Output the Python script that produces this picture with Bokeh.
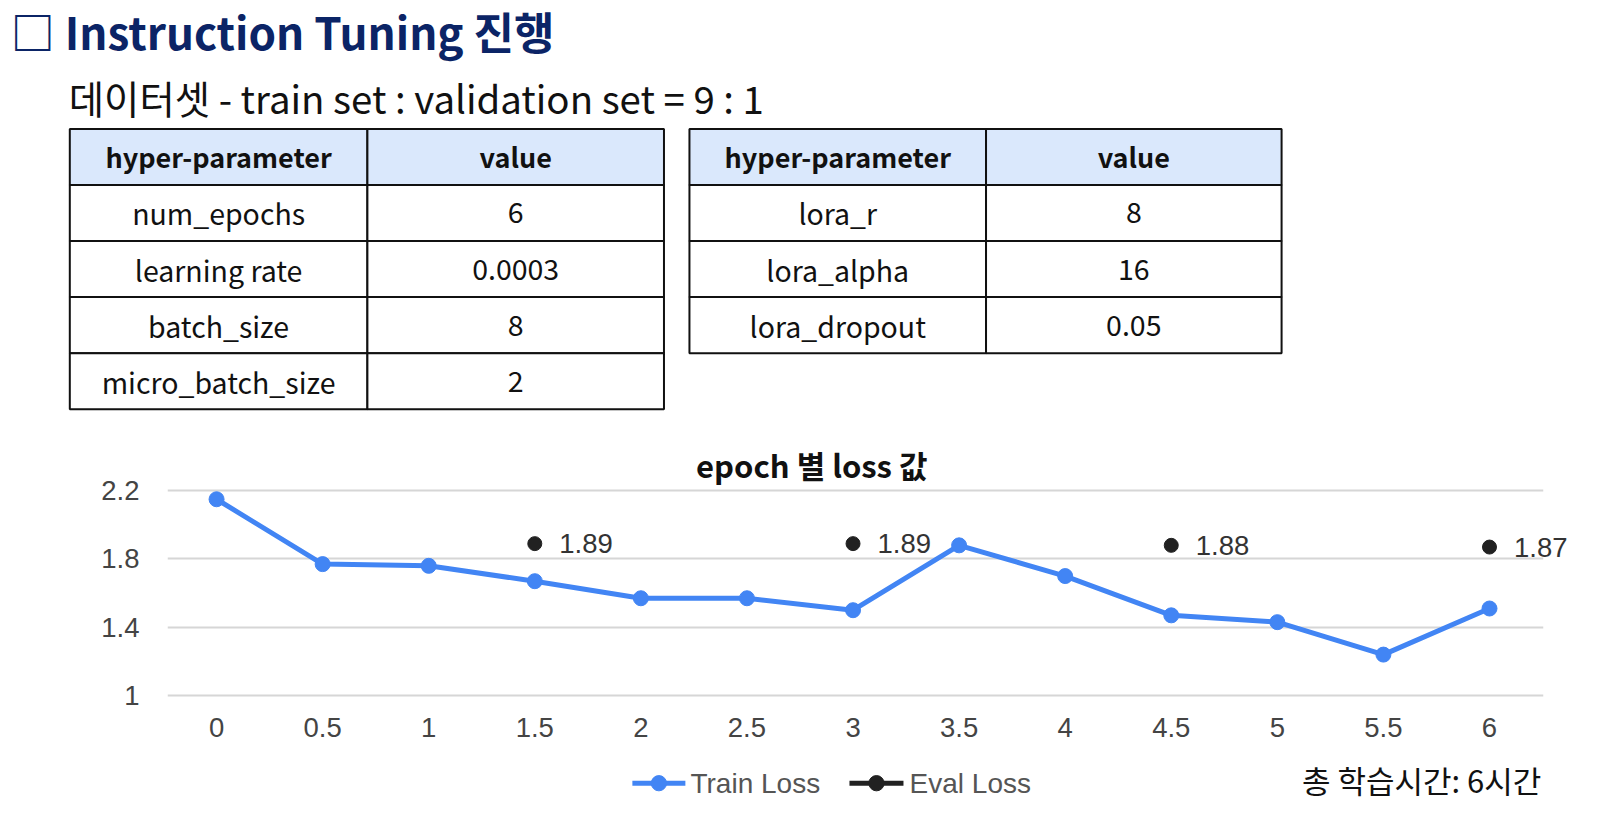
from bokeh.plotting import figure
from bokeh.models import (Range1d, ColumnDataSource, FixedTicker, CustomJSTickFormatter)
from bokeh.core.properties import value
from bokeh.embed import file_html
from bokeh.resources import INLINE

# ---------------- data ----------------
title_text = "□ Instruction Tuning 진행"
subtitle_text = "데이터셋 - train set : validation set = 9 : 1"
table_header = ["hyper-parameter", "value"]
train_params = ["num_epochs", "learning rate", "batch_size", "micro_batch_size"]
train_values = ["6", "0.0003", "8", "2"]
lora_params = ["lora_r", "lora_alpha", "lora_dropout"]
lora_values = ["8", "16", "0.05"]

chart_title = "epoch 별 loss 값"
epochs = [0, 0.5, 1, 1.5, 2, 2.5, 3, 3.5, 4, 4.5, 5, 5.5, 6]
train_loss = [2.15, 1.77, 1.76, 1.67, 1.57, 1.57, 1.50, 1.88, 1.70, 1.47, 1.43, 1.24, 1.51]
eval_epochs = [1.5, 3, 4.5, 6]
eval_loss = [1.89, 1.89, 1.88, 1.87]
x_ticks = [0, 0.5, 1, 1.5, 2, 2.5, 3, 3.5, 4, 4.5, 5, 5.5, 6]
x_tick_labels = ["0", "0.5", "1", "1.5", "2", "2.5", "3", "3.5", "4", "4.5", "5", "5.5", "6"]
y_ticks = [1, 1.4, 1.8, 2.2]
y_tick_labels = ["1", "1.4", "1.8", "2.2"]
series_names = ["Train Loss", "Eval Loss"]
total_time = "총 학습시간: 6시간"

# ---------------- styles / layout ----------------
KR = value("Noto Sans CJK KR")
CHART_NAME = "Liberation Sans"
CHART_FONT = value(CHART_NAME)
NAVY = "#0b2466"
BLUE = "#4285f4"
DARK = "#212121"
W, H = 1582, 802
S = 0.9812                      # layout units per canvas pixel
# chart frame in layout units
FL, FR, FT, FB = 164, 1514, 479, 684
MB_L, MB_R = round(FL / S), W - round(FR / S)
MB_T, MB_B = round(FT / S), H - round(FB / S)
fl, fr = MB_L * S, (W - MB_R) * S
ft, fb = MB_T * S, (H - MB_B) * S
# chart axes placement in layout units: x=0 at 212, x=6 at 1461; y=2.2 at 481, y=1 at 682
xs_per = (1461 - 212) / 6.0
ys_per = (682 - 481) / 1.2
x_start, x_end = (fl - 212) / xs_per, (fr - 212) / xs_per
y_end, y_start = 2.2 + (481 - ft) / ys_per, 1.0 - (fb - 682) / ys_per

PX = dict(x_range_name="px", y_range_name="px", level="overlay")

p = figure(width=W, height=H, x_range=Range1d(x_start, x_end), y_range=Range1d(y_start, y_end),
           output_backend="svg", toolbar_location=None,
           min_border_left=MB_L, min_border_right=MB_R, min_border_top=MB_T, min_border_bottom=MB_B)
p.outline_line_color = None
p.background_fill_color = "white"
p.extra_x_ranges = {"px": Range1d(fl, fr)}
p.extra_y_ranges = {"px": Range1d(fb, ft)}

# ---------------- title & subtitle ----------------
p.text(x=[10], y=[30], text=[title_text], text_font=KR, text_font_style="bold",
       text_font_size="44px", text_color=NAVY, text_baseline="middle", text_align="left", **PX)
p.text(x=[67], y=[95], text=[subtitle_text], text_font=KR, text_font_size="38.4px",
       text_color="#111111", text_baseline="middle", text_align="left", **PX)


def draw_table(params, values, left, col_w, top_y, row_h=55):
    rows = [table_header] + [list(r) for r in zip(params, values)]
    xs, ys, ws, fills, texts, styles, sizes = [], [], [], [], [], [], []
    for i, row in enumerate(rows):
        x0 = left
        for j, cell in enumerate(row):
            xs.append(x0 + col_w[j] / 2)
            ys.append(top_y + row_h * (i + 0.5))
            ws.append(col_w[j])
            fills.append("#dae8fc" if i == 0 else "white")
            texts.append(cell)
            styles.append("bold" if i == 0 else "normal")
            sizes.append("27px" if i == 0 else "28.5px")
            x0 += col_w[j]
    src = ColumnDataSource(dict(x=xs, y=ys, w=ws, fill=fills, text=texts, style=styles, size=sizes))
    p.rect(x="x", y="y", width="w", height=row_h, fill_color="fill", line_color="#111111",
           line_width=2, source=src, **PX)
    p.text(x="x", y="y", text="text", text_font=KR, text_font_style="style",
           text_font_size="size", text_color="#111111", text_align="center",
           text_baseline="middle", source=src, **PX)


draw_table(train_params, train_values, 68, [292, 291], 126)
draw_table(lora_params, lora_values, 676, [291, 290], 126)

# ---------------- chart ----------------
p.xgrid.visible = False
p.ygrid.ticker = FixedTicker(ticks=y_ticks)
p.ygrid.grid_line_color = "#d6d6d6"
p.ygrid.grid_line_width = 2

fmt_code = """
const i = tk.findIndex(t => Math.abs(t - tick) < 1e-9);
return i >= 0 ? lb[i] : '';
"""
p.xaxis.ticker = FixedTicker(ticks=x_ticks)
p.xaxis.formatter = CustomJSTickFormatter(args=dict(tk=x_ticks, lb=x_tick_labels), code=fmt_code)
p.yaxis.ticker = FixedTicker(ticks=y_ticks)
p.yaxis.formatter = CustomJSTickFormatter(args=dict(tk=y_ticks, lb=y_tick_labels), code=fmt_code)
for ax in (p.xaxis, p.yaxis):
    ax.axis_line_color = None
    ax.major_tick_line_color = None
    ax.minor_tick_line_color = None
    ax.major_label_text_font = CHART_NAME
    ax.major_label_text_font_size = "27.5px"
    ax.major_label_text_color = "#444444"
p.xaxis.major_label_standoff = 14
p.yaxis.major_label_standoff = 22

p.line(epochs, train_loss, line_color=BLUE, line_width=5)
p.scatter(epochs, train_loss, size=15, fill_color=BLUE, line_color=BLUE)
p.scatter(eval_epochs, eval_loss, size=14, fill_color=DARK, line_color=DARK)

eval_src = ColumnDataSource(dict(x=eval_epochs, y=eval_loss, t=[f"{v:.2f}" for v in eval_loss]))
p.text(x="x", y="y", text="t", source=eval_src, x_offset=24.5, text_font=CHART_FONT,
       text_font_size="27.5px", text_color="#333333", text_baseline="middle", text_align="left",
       level="overlay")

# chart title and footnote
p.text(x=[796], y=[455], text=[chart_title], text_font=KR, text_font_style="bold",
       text_font_size="31px", text_color="#111111", text_align="center", text_baseline="middle", **PX)
p.text(x=[1277], y=[764], text=[total_time], text_font=KR, text_font_size="31px",
       text_color="#111111", text_align="left", text_baseline="middle", **PX)

# legend (drawn below the chart)
leg_src = ColumnDataSource(dict(x0=[620, 833], x1=[672, 886], xm=[646, 859.5], y=[768, 768],
                                tx=[677, 892], color=[BLUE, DARK], label=series_names))
p.segment(x0="x0", y0="y", x1="x1", y1="y", line_color="color", line_width=5, source=leg_src, **PX)
p.ellipse(x="xm", y="y", width=15, height=15, fill_color="color", line_color="color",
          source=leg_src, **PX)
p.text(x="tx", y="y", text="label", text_font=CHART_FONT, text_font_size="28px",
       text_color="#555555", text_align="left", text_baseline="middle", source=leg_src, **PX)

open("out.html", "w").write(file_html(p, INLINE))
